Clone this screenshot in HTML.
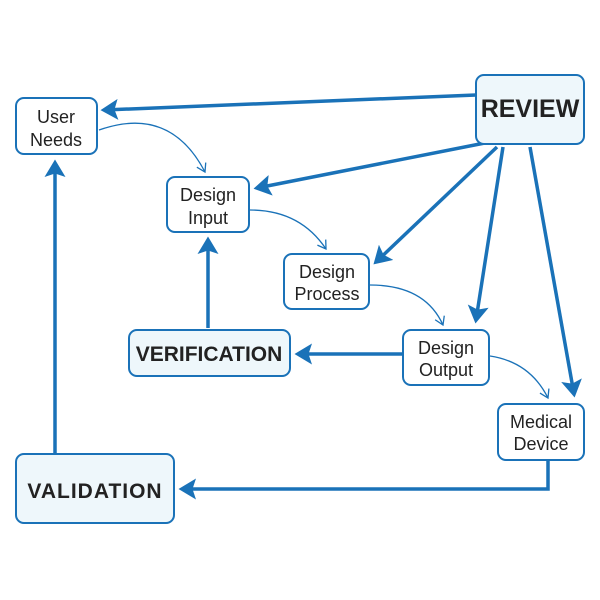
<!DOCTYPE html><html><head><style>body{margin:0;background:#fff}svg{display:block}text{font-family:"Liberation Sans",sans-serif;fill:#222;text-anchor:middle}</style></head><body>
<svg width="600" height="600" viewBox="0 0 600 600">
<defs>
<marker id="a" markerWidth="6" markerHeight="6" refX="4" refY="3" orient="auto" markerUnits="strokeWidth"><path d="M0,0 L5,3 L0,6 L1,3Z" fill="#1a72b8"/></marker>
<marker id="t" markerWidth="12" markerHeight="12" refX="9" refY="6" orient="auto" markerUnits="userSpaceOnUse"><path d="M1,1 L9,6 L1,11" fill="none" stroke="#1a72b8" stroke-width="1.3"/></marker>
</defs>
<g stroke="#1a72b8" stroke-width="3.5" fill="none" marker-end="url(#a)">
<line x1="476" y1="95" x2="104" y2="110"/>
<line x1="500" y1="140" x2="257" y2="188"/>
<line x1="497" y1="147" x2="376" y2="262"/>
<line x1="503" y1="147" x2="476" y2="320"/>
<line x1="530" y1="147" x2="574" y2="394"/>
<polyline points="548,460 548,489 182,489"/>
<line x1="55" y1="454" x2="55" y2="163"/>
<line x1="208" y1="328" x2="208" y2="240"/>
<line x1="403" y1="354" x2="298" y2="354"/>
</g>
<g stroke="#1a72b8" stroke-width="1.3" fill="none" marker-end="url(#t)">
<path d="M99,130 Q170,105 205,172"/>
<path d="M250,210 Q300,210 326,249"/>
<path d="M370,285 Q425,285 443,325"/>
<path d="M490,356 Q530,362 548,398"/>
</g>
<g stroke="#1a72b8" stroke-width="2" fill="#fff">
<rect x="16" y="98" width="81" height="56" rx="8"/>
<rect x="167" y="177" width="82" height="55" rx="8"/>
<rect x="284" y="254" width="85" height="55" rx="8"/>
<rect x="403" y="330" width="86" height="55" rx="8"/>
<rect x="498" y="404" width="86" height="56" rx="8"/>
<rect x="476" y="75" width="108" height="69" rx="8" fill="#eef7fb"/>
<rect x="129" y="330" width="161" height="46" rx="8" fill="#eef7fb"/>
<rect x="16" y="454" width="158" height="69" rx="8" fill="#eef7fb"/>
</g>
<g font-size="18">
<text x="56" y="123">User</text><text x="56" y="146">Needs</text>
<text x="208" y="201">Design</text><text x="208" y="224">Input</text>
<text x="327" y="278">Design</text><text x="327" y="300">Process</text>
<text x="446" y="354">Design</text><text x="446" y="376">Output</text>
<text x="541" y="428">Medical</text><text x="541" y="450">Device</text>
</g>
<g font-weight="bold">
<text x="530" y="117" font-size="25">REVIEW</text>
<text x="209" y="361" font-size="21">VERIFICATION</text>
<text x="95" y="498" font-size="21" letter-spacing="1">VALIDATION</text>
</g>
</svg></body></html>
